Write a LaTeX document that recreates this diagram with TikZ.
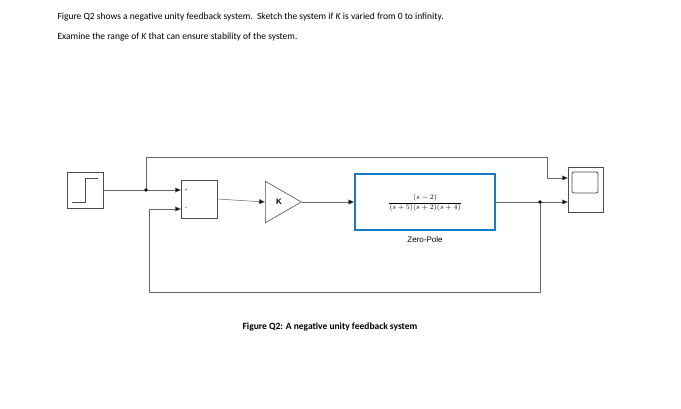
\documentclass[tikz,border=0pt]{standalone}
\usepackage{fontspec}
\setmainfont{Carlito}
\newfontfamily\arialf{Liberation Sans}
\usetikzlibrary{arrows.meta,shapes.geometric}
\begin{document}
\begin{tikzpicture}[x=1pt,y=-1pt,
  blk/.style={draw=black!70,line width=0.6pt,inner sep=0},
  wire/.style={draw=black!60,line width=0.5pt},
  arr/.style={wire,-{Triangle[length=6pt,width=5pt,fill=black]}},
  dot/.style={circle,fill=black,inner sep=1.3pt}]
\useasboundingbox (0,0) rectangle (681,409);
\node[anchor=west,font=\fontsize{9.5}{11}\selectfont] (t1) at (54,17) {Figure Q2 shows a negative unity feedback system.\ \ Sketch the system if \textit{K} is varied from 0 to infinity.};
\node[anchor=west,font=\fontsize{9.5}{11}\selectfont] (t2) at (54,37) {Examine the range of \textit{K} that can ensure stability of the system.};
% step
\node[blk,minimum width=36pt,minimum height=36pt] (step) at (85,190) {};
\draw[black!70,line width=0.6pt] (72,202) -- (85,202) -- (85,178) -- (98,178);
% sum
\node[blk,minimum width=36pt,minimum height=38pt] (sum) at (199,199) {};
\node[font=\tiny] (pl) at (186,190) {+};
\node[font=\tiny] (mi) at (186,209) {--};
% gain
\node[blk,isosceles triangle,isosceles triangle apex angle=60,minimum height=36pt,anchor=west,inner sep=0] (gain) at (265,202) {};
\node[font=\arialf\fontsize{8}{9}\selectfont\bfseries] (kl) at (279,202) {K};
% zero-pole
\node[draw=cyan!60!blue,line width=1.5pt,minimum width=140pt,minimum height=56pt,inner sep=0] (zp) at (425,202) {};
\node[font=\fontsize{7.5}{9}\selectfont] (tf) at (425,203) {$\displaystyle\frac{(s-2)}{(s+5)(s+2)(s+4)}$};
\node[font=\arialf\fontsize{8}{9}\selectfont] (zpl) at (425,240) {Zero-Pole};
% scope
\node[blk,minimum width=35pt,minimum height=45pt] (scope) at (585.5,189.5) {};
\node[draw=black!70,line width=0.8pt,rounded corners=2pt,minimum width=26pt,minimum height=21pt,inner sep=0] (scr) at (585,182.5) {};
% wires
\coordinate (j1) at (146,190);
\coordinate (j2) at (540,202);
\draw[wire] (step.east) -- (j1);
\draw[arr] (j1) -- (181,190);
\draw[arr] (j1) -- (146,157) -- (547,157) -- (547,178) -- (568,178);
\draw[arr] (sum.east) -- (gain.west);
\draw[arr] (gain.east) -- (zp.west);
\draw[wire] (zp.east) -- (j2);
\draw[arr] (j2) -- (568,202);
\draw[arr] (j2) -- (540,292) -- (149,292) -- (149,209) -- (181,209);
\node[dot] at (j1) {};
\node[dot] at (j2) {};
\node[font=\fontsize{9.5}{11}\selectfont\bfseries] (cap) at (330,327) {Figure Q2: A negative unity feedback system};
\end{tikzpicture}
\end{document}
